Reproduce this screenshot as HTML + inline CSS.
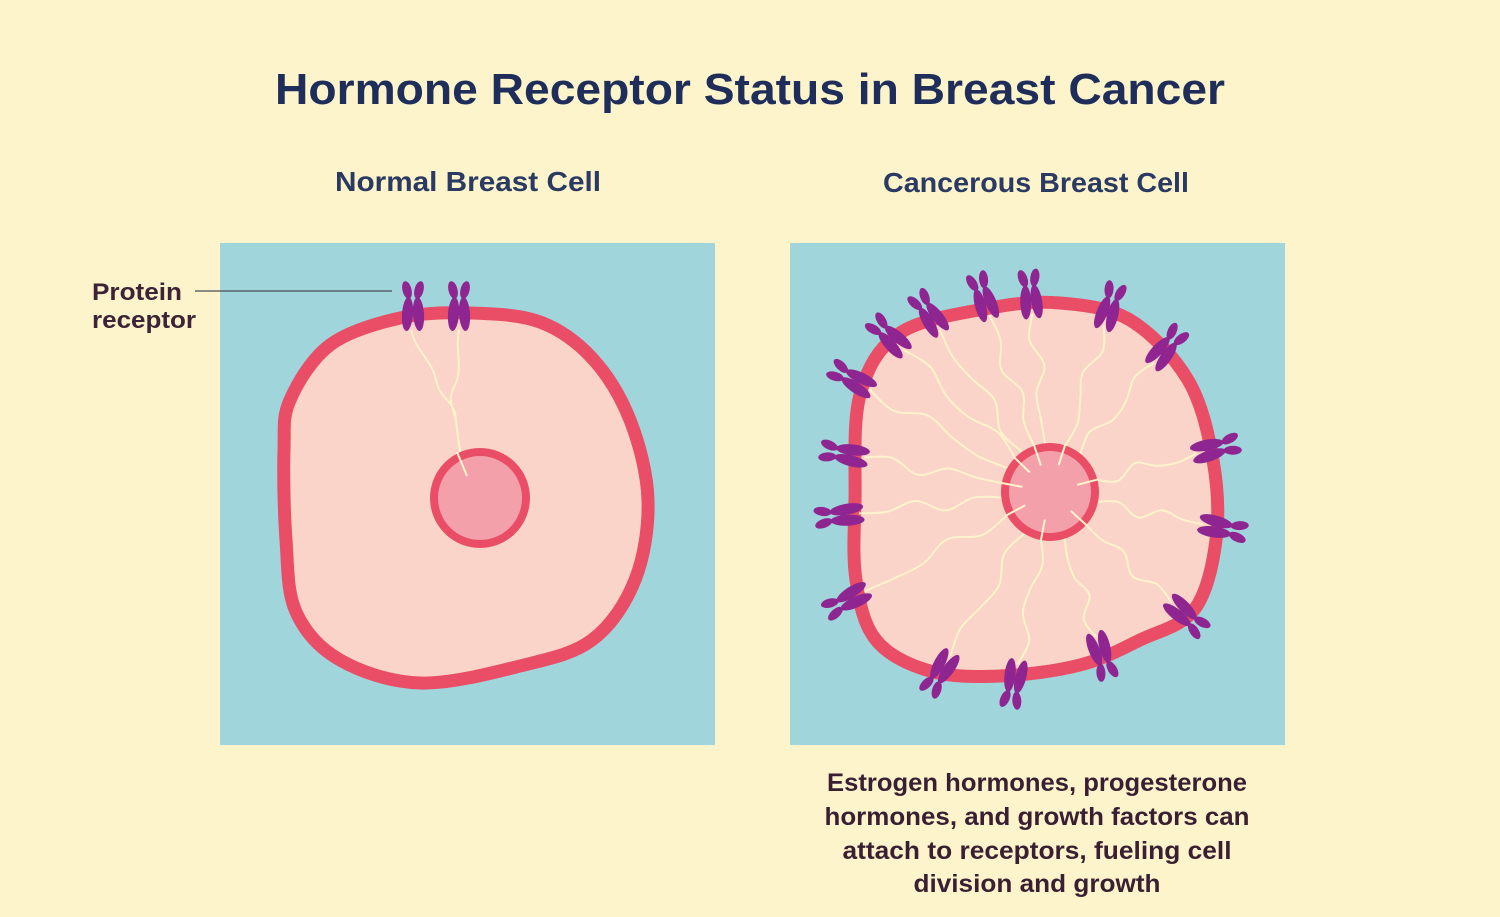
<!DOCTYPE html>
<html><head><meta charset="utf-8"><style>
html,body{margin:0;padding:0;background:#fdf4cb;}
svg{display:block}
text{font-family:"Liberation Sans",sans-serif;font-weight:bold}
</style></head><body>
<svg id="s" width="1500" height="917" viewBox="0 0 1500 917" xmlns="http://www.w3.org/2000/svg">
<rect width="1500" height="917" fill="#fdf4cb"/>
<text x="750" y="104" text-anchor="middle" font-size="44" fill="#1e2d5a" textLength="950" lengthAdjust="spacingAndGlyphs">Hormone Receptor Status in Breast Cancer</text>
<text x="468" y="191" text-anchor="middle" font-size="28" fill="#2b3a62" textLength="266" lengthAdjust="spacingAndGlyphs">Normal Breast Cell</text>
<text x="1036" y="192" text-anchor="middle" font-size="28" fill="#2b3a62" textLength="306" lengthAdjust="spacingAndGlyphs">Cancerous Breast Cell</text>
<rect x="220" y="243" width="495" height="502" fill="#a0d5dc"/>
<rect x="790" y="243" width="495" height="502" fill="#a0d5dc"/>
<text x="92" y="300" font-size="24" fill="#3d2335" textLength="90" lengthAdjust="spacingAndGlyphs">Protein</text>
<text x="92" y="328" font-size="24" fill="#3d2335" textLength="104" lengthAdjust="spacingAndGlyphs">receptor</text>
<line x1="195" y1="291" x2="392" y2="291" stroke="#4a4a55" stroke-width="1.3"/>
<g id="cells"></g>
<g fill="#3a1f33" font-size="25" text-anchor="middle">
<text x="1037" y="791" textLength="420" lengthAdjust="spacingAndGlyphs">Estrogen hormones, progesterone</text>
<text x="1037" y="825" textLength="425" lengthAdjust="spacingAndGlyphs">hormones, and growth factors can</text>
<text x="1037" y="859" textLength="389" lengthAdjust="spacingAndGlyphs">attach to receptors, fueling cell</text>
<text x="1037" y="892" textLength="247" lengthAdjust="spacingAndGlyphs">division and growth</text>
</g>
</svg>
<script>
var NS="http://www.w3.org/2000/svg",g=document.getElementById("cells");
function el(t,a,p){var e=document.createElementNS(NS,t);for(var k in a)e.setAttribute(k,a[k]);(p||g).appendChild(e);return e;}
function cr(pts,closed){var n=pts.length,d="M"+pts[0][0]+","+pts[0][1];var m=closed?n:n-1;
function P(i){if(closed)return pts[(i+n)%n];return pts[Math.max(0,Math.min(n-1,i))];}
for(var i=0;i<m;i++){var p0=P(i-1),p1=P(i),p2=P(i+1),p3=P(i+2);
d+=" C"+(p1[0]+(p2[0]-p0[0])/6).toFixed(1)+","+(p1[1]+(p2[1]-p0[1])/6).toFixed(1)+" "+(p2[0]-(p3[0]-p1[0])/6).toFixed(1)+","+(p2[1]-(p3[1]-p1[1])/6).toFixed(1)+" "+p2[0].toFixed(1)+","+p2[1].toFixed(1);}
return d+(closed?"Z":"");}
function cell(pts){el("path",{d:cr(pts,true),fill:"#fad4c8",stroke:"#e94e66","stroke-width":13});}
function fiber(x1,y1,x2,y2,seed){var n=5,pts=[];var dx=x2-x1,dy=y2-y1,L=Math.hypot(dx,dy),nx=-dy/L,ny=dx/L;
for(var i=0;i<=n;i++){var t=i/n,o=(i>0&&i<n)?Math.sin(seed*3.7+i*2.3)*7:0;pts.push([x1+dx*t+nx*o,y1+dy*t+ny*o]);}
el("path",{d:cr(pts,false),fill:"none",stroke:"#fff3cc","stroke-width":2});}
function rec(x,y,ang){var gg=el("g",{transform:"translate("+x+","+y+") rotate("+ang+")"});
[-1,1].forEach(function(s){el("ellipse",{cx:5.5*s,cy:2,rx:5.5,ry:17,transform:"rotate("+(-4*s)+" "+5.5*s+" 2)",fill:"#8e2590"},gg);
el("ellipse",{cx:6*s,cy:-22,rx:4.5,ry:9,transform:"rotate("+(14*s)+" "+6*s+" -22)",fill:"#8e2590"},gg);});}
// normal cell
cell([[290,400],[330,345],[400,318],[470,313],[540,322],[592,358],[630,420],[648,500],[635,580],[592,640],[520,666],[420,683],[340,660],[296,612],[286,540],[284,450]]);
el("path",{d:"M411,330 C415,350 432,360 436,380 C440,400 455,400 456,420 C458,440 460,455 466,475",fill:"none",stroke:"#fff3cc","stroke-width":2});
el("path",{d:"M459,330 C455,350 463,370 455,385 C447,400 452,405 456,420",fill:"none",stroke:"#fff3cc","stroke-width":2});
el("circle",{cx:480,cy:498,r:46,fill:"#f4a0ab",stroke:"#e94e66","stroke-width":8});
el("line",{x1:457,y1:452,x2:467,y2:476,stroke:"#fff3cc","stroke-width":2});
rec(413,312,0);rec(459,312,0);
// cancer cell
var C=[1050,492];
cell([[860,395],[900,333],[990,308],[1060,303],[1130,320],[1188,380],[1213,460],[1216,540],[1194,610],[1140,640],[1080,665],[1000,676],[930,671],[876,640],[856,580],[855,500]]);
var R=[[985,302],[1031,300],[1108,312],[1163,352],[1210,450],[1217,527],[1182,612],[1100,650],[1015,678],[943,668],[852,598],[845,515],[850,455],[857,382],[893,340],[932,318]];
R.forEach(function(p,i){var dx=p[0]-C[0],dy=p[1]-C[1],L=Math.hypot(dx,dy);
fiber(C[0]+dx/L*48,C[1]+dy/L*48,p[0]-dx/L*14,p[1]-dy/L*14,i+1);});
el("circle",{cx:1050,cy:492,r:45,fill:"#f4a0ab",stroke:"#e94e66","stroke-width":8});
R.forEach(function(p,i){if(i%2)return;var dx=p[0]-C[0],dy=p[1]-C[1],L=Math.hypot(dx,dy);
el("line",{x1:C[0]+dx/L*28,y1:C[1]+dy/L*28,x2:C[0]+dx/L*50,y2:C[1]+dy/L*50,stroke:"#fff3cc","stroke-width":2});});
R.forEach(function(p){var a=Math.atan2(p[1]-C[1],p[0]-C[0])*180/Math.PI+90;rec(p[0],p[1],a);});
</script>
</body></html>
